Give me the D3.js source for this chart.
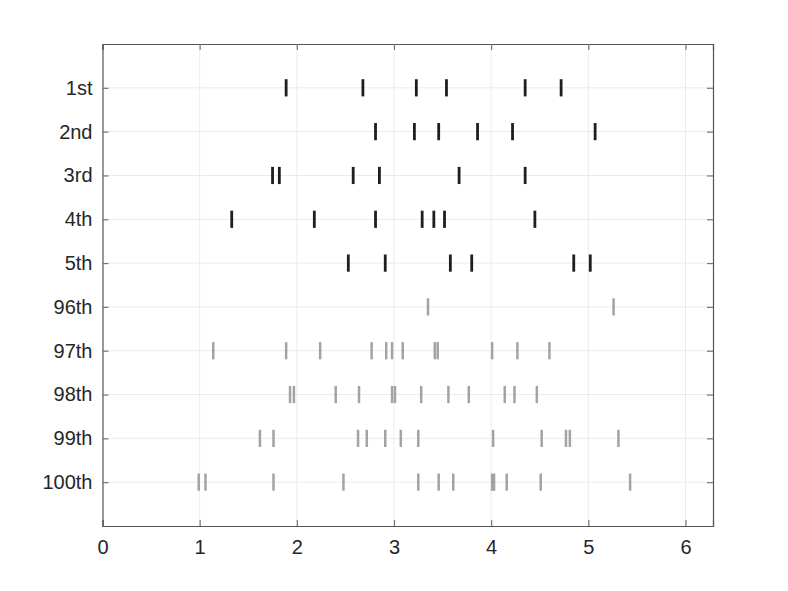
<!DOCTYPE html>
<html>
<head>
<meta charset="utf-8">
<script src="https://cdn.jsdelivr.net/npm/d3@7"></script>
<style>
  body { margin: 0; background: #fff; }
  text { font-family: "Liberation Sans", Arial, sans-serif; }
</style>
</head>
<body>
<div id="chart-area"></div>
<script>
// row labels, top to bottom
var categories = ["1st", "2nd", "3rd", "4th", "5th", "96th", "97th", "98th", "99th", "100th"];

// event times per row
var row1st = [1.89, 2.68, 3.23, 3.54, 4.35, 4.72];
var row2nd = [2.81, 3.21, 3.46, 3.86, 4.22, 5.07];
var row3rd = [1.75, 1.82, 2.58, 2.85, 3.67, 4.35];
var row4th = [1.33, 2.18, 2.81, 3.29, 3.41, 3.52, 4.45];
var row5th = [2.53, 2.91, 3.58, 3.80, 4.85, 5.02];
var row96th = [3.35, 5.26];
var row97th = [1.14, 1.89, 2.24, 2.77, 2.92, 2.98, 3.09, 3.42, 3.45, 4.01, 4.27, 4.60];
var row98th = [1.93, 1.97, 2.40, 2.64, 2.98, 3.01, 3.28, 3.56, 3.77, 4.14, 4.24, 4.47];
var row99th = [1.62, 1.76, 2.63, 2.72, 2.91, 3.07, 3.25, 4.02, 4.52, 4.77, 4.81, 5.31];
var row100th = [0.99, 1.06, 1.76, 2.48, 3.25, 3.46, 3.61, 4.01, 4.03, 4.16, 4.51, 5.43];

var rows = [row1st, row2nd, row3rd, row4th, row5th, row96th, row97th, row98th, row99th, row100th];

var xTicks = [0, 1, 2, 3, 4, 5, 6];

var margin = { left: 102.5, right: 75, top: 44, bottom: 65 };
var width = 788 - margin.left - margin.right,
    height = 591 - margin.top - margin.bottom;

var svg = d3.select("#chart-area")
    .append("svg")
        .attr("width", 788)
        .attr("height", 591);

var g = svg.append("g")
    .attr("transform", "translate(" + margin.left + ", " + margin.top + ")");

var xScale = d3.scaleLinear()
    .domain([0, 2 * Math.PI])
    .range([0, width]);

// rows sit at 1..10, with an empty slot above and below
var yScale = d3.scaleLinear()
    .domain([0, categories.length + 1])
    .range([0, height]);

// grid
g.selectAll(".xgrid")
    .data(xTicks.slice(1))
    .enter().append("line")
        .attr("x1", function(d) { return xScale(d); })
        .attr("x2", function(d) { return xScale(d); })
        .attr("y1", 0)
        .attr("y2", height)
        .attr("stroke", "#ebebeb")
        .attr("stroke-width", 1);

g.selectAll(".ygrid")
    .data(categories)
    .enter().append("line")
        .attr("x1", 0)
        .attr("x2", width)
        .attr("y1", function(d, i) { return yScale(i + 1); })
        .attr("y2", function(d, i) { return yScale(i + 1); })
        .attr("stroke", "#ebebeb")
        .attr("stroke-width", 1);

// spikes
var markHalf = 8.6;
rows.forEach(function(vals, i) {
    var col = i < 5 ? "#1e1e1e" : "#a3a3a3";
    var sw = i < 5 ? 2.8 : 2.5;
    g.selectAll(".r" + i)
        .data(vals)
        .enter().append("line")
            .attr("class", "r" + i)
            .attr("x1", function(d) { return xScale(d); })
            .attr("x2", function(d) { return xScale(d); })
            .attr("y1", yScale(i + 1) - markHalf)
            .attr("y2", yScale(i + 1) + markHalf)
            .attr("stroke", col)
            .attr("stroke-width", sw);
});

// axes (ticks pointing inward, on all four sides)
var xAxisCall = d3.axisBottom(xScale)
    .tickValues(xTicks)
    .tickSize(-6)
    .tickPadding(14)
    .tickFormat(function(d) { return d; });

var xAx = g.append("g")
    .attr("class", "x axis")
    .attr("transform", "translate(0, " + height + ")")
    .call(xAxisCall);

var xTop = g.append("g")
    .call(d3.axisTop(xScale).tickValues(xTicks).tickSize(-6).tickFormat(""));

var yAxisCall = d3.axisLeft(yScale)
    .tickValues(d3.range(1, categories.length + 1))
    .tickSize(-6)
    .tickPadding(10)
    .tickFormat(function(d) { return categories[d - 1]; });

var yAx = g.append("g")
    .attr("class", "y axis")
    .call(yAxisCall);

var yRight = g.append("g")
    .attr("transform", "translate(" + width + ", 0)")
    .call(d3.axisRight(yScale).tickValues(d3.range(1, categories.length + 1)).tickSize(-6).tickFormat(""));

[xAx, xTop, yAx, yRight].forEach(function(a) {
    a.select(".domain").attr("stroke", "#555").attr("stroke-width", 1.2);
    a.selectAll(".tick line").attr("stroke", "#777").attr("stroke-width", 1.2);
    a.selectAll(".tick text")
        .attr("fill", "#262626")
        .attr("font-size", "20px")
        .attr("font-family", "Liberation Sans, Arial, sans-serif");
});
</script>
</body>
</html>
